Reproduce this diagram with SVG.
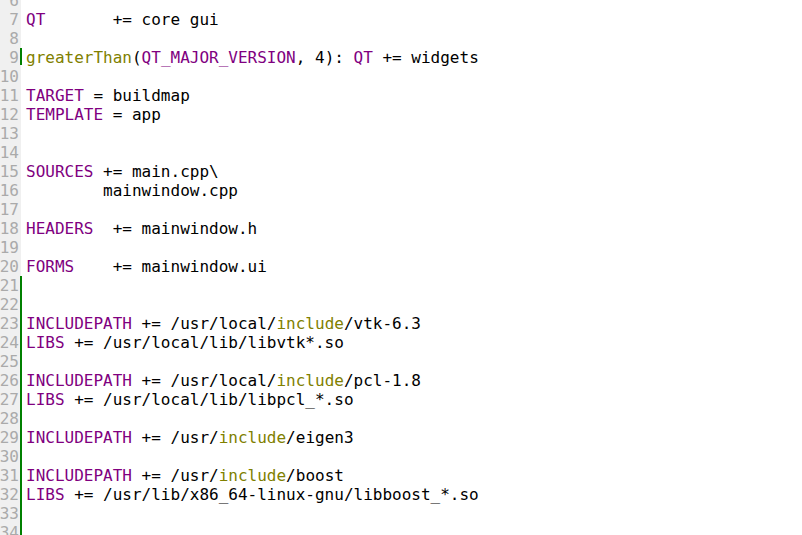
<svg xmlns="http://www.w3.org/2000/svg" width="802" height="535" viewBox="0 0 802 535">
<style>
.n{font-family:"DejaVu Sans Mono",monospace;font-size:16px;fill:#aaaaaa;text-anchor:end}
.c{font-family:"DejaVu Sans Mono",monospace;font-size:16px;fill:#000;white-space:pre}
.k{fill:#800080}.o{fill:#808000}
</style>
<rect width="802" height="535" fill="#fff"/>
<rect width="21" height="535" fill="#f0f0f0"/>
<rect x="20" y="48" width="2" height="17" fill="#008000"/>
<rect x="20" y="276" width="2" height="259" fill="#008000"/>
<g id="nums">
<text class="n" x="19" y="6">6</text>
<text class="n" x="19" y="25">7</text>
<text class="n" x="19" y="44">8</text>
<text class="n" x="19" y="63">9</text>
<text class="n" x="19" y="82">10</text>
<text class="n" x="19" y="101">11</text>
<text class="n" x="19" y="120">12</text>
<text class="n" x="19" y="139">13</text>
<text class="n" x="19" y="158">14</text>
<text class="n" x="19" y="177">15</text>
<text class="n" x="19" y="196">16</text>
<text class="n" x="19" y="215">17</text>
<text class="n" x="19" y="234">18</text>
<text class="n" x="19" y="253">19</text>
<text class="n" x="19" y="272">20</text>
<text class="n" x="19" y="291">21</text>
<text class="n" x="19" y="310">22</text>
<text class="n" x="19" y="329">23</text>
<text class="n" x="19" y="348">24</text>
<text class="n" x="19" y="367">25</text>
<text class="n" x="19" y="386">26</text>
<text class="n" x="19" y="405">27</text>
<text class="n" x="19" y="424">28</text>
<text class="n" x="19" y="443">29</text>
<text class="n" x="19" y="462">30</text>
<text class="n" x="19" y="481">31</text>
<text class="n" x="19" y="500">32</text>
<text class="n" x="19" y="519">33</text>
<text class="n" x="19" y="538">34</text>
</g>
<g id="code">
<text class="c" x="26" y="25"><tspan class="k">QT</tspan>       += core gui</text>
<text class="c" x="26" y="63"><tspan class="o">greaterThan</tspan>(<tspan class="k">QT_MAJOR_VERSION</tspan>, 4): <tspan class="k">QT</tspan> += widgets</text>
<text class="c" x="26" y="101"><tspan class="k">TARGET</tspan> = buildmap</text>
<text class="c" x="26" y="120"><tspan class="k">TEMPLATE</tspan> = app</text>
<text class="c" x="26" y="177"><tspan class="k">SOURCES</tspan> += main.cpp\</text>
<text class="c" x="26" y="196">        mainwindow.cpp</text>
<text class="c" x="26" y="234"><tspan class="k">HEADERS</tspan>  += mainwindow.h</text>
<text class="c" x="26" y="272"><tspan class="k">FORMS</tspan>    += mainwindow.ui</text>
<text class="c" x="26" y="329"><tspan class="k">INCLUDEPATH</tspan> += /usr/local/<tspan class="o">include</tspan>/vtk-6.3</text>
<text class="c" x="26" y="348"><tspan class="k">LIBS</tspan> += /usr/local/lib/libvtk*.so</text>
<text class="c" x="26" y="386"><tspan class="k">INCLUDEPATH</tspan> += /usr/local/<tspan class="o">include</tspan>/pcl-1.8</text>
<text class="c" x="26" y="405"><tspan class="k">LIBS</tspan> += /usr/local/lib/libpcl_*.so</text>
<text class="c" x="26" y="443"><tspan class="k">INCLUDEPATH</tspan> += /usr/<tspan class="o">include</tspan>/eigen3</text>
<text class="c" x="26" y="481"><tspan class="k">INCLUDEPATH</tspan> += /usr/<tspan class="o">include</tspan>/boost</text>
<text class="c" x="26" y="500"><tspan class="k">LIBS</tspan> += /usr/lib/x86_64-linux-gnu/libboost_*.so</text>
</g>
</svg>
